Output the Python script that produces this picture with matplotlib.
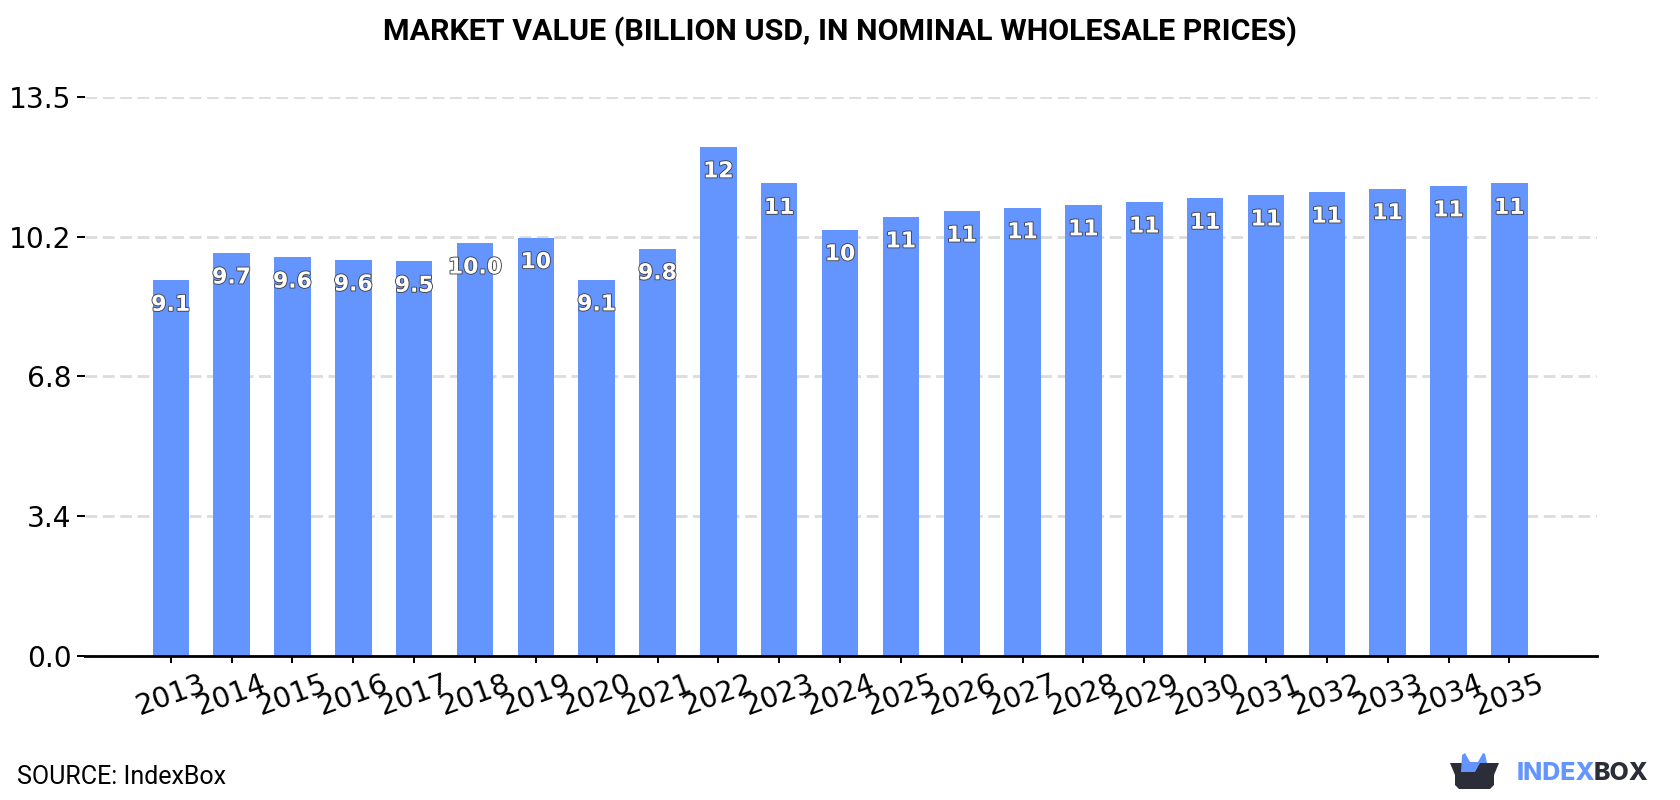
import matplotlib
matplotlib.use("Agg")
import matplotlib.pyplot as plt
import matplotlib.patheffects as pe
from matplotlib.patches import Polygon

years = list(range(2013, 2036))
values = [9.07, 9.73, 9.63, 9.56, 9.53, 9.97, 10.10, 9.08, 9.83, 12.29, 11.41, 10.29,
          10.60, 10.74, 10.82, 10.89, 10.96, 11.05, 11.13, 11.20, 11.28, 11.35, 11.41]
y_ticks = [0, 3.375, 6.75, 10.125, 13.5]
y_tick_labels = ["0.0", "3.4", "6.8", "10.2", "13.5"]

BLUE = "#6495FF"
DARK = "#2B2D38"
W, H = 1680, 800


def fx(px):
    return px / W


def fy(px):
    return 1 - px / H


def lw(px):
    return px * 72 / 100


fig = plt.figure(figsize=(16.8, 8), dpi=100, facecolor="white")
ax = fig.add_axes([fx(85), fy(656), fx(1597 - 85), (656 - 96.7) / H])

xs = list(range(len(years)))
bars = ax.bar(xs, values, width=0.6, color=BLUE, zorder=3)

ax.set_xlim(-1.41, 23.44)
ax.set_ylim(0, 13.5)

ax.set_yticks(y_ticks)
ax.set_yticklabels(y_tick_labels, fontsize=20.2, family="DejaVu Sans")
ax.set_xticks(xs)
ax.set_xticklabels(years, fontsize=20.5, family="DejaVu Sans", rotation=20,
                   ha="center", rotation_mode="default")
ax.tick_params(axis="y", length=lw(8), width=lw(2), pad=4)
ax.tick_params(axis="x", length=lw(7), width=lw(2), pad=4.5)

ax.grid(axis="y", color="#DCDCDC", linewidth=lw(2.8), linestyle=(0, (4.2, 2.0)), zorder=1)
ax.set_axisbelow(True)
for side in ("top", "right", "left"):
    ax.spines[side].set_visible(False)
ax.spines["bottom"].set_linewidth(lw(2.8))
ax.spines["bottom"].set_zorder(5)

# Value labels sit just inside the top of each bar
for x, v in zip(xs, values):
    label = f"{v:.1f}" if v < 10 else f"{v:.0f}"
    ax.annotate(label, (x, v), xytext=(0, -17.7), textcoords="offset points",
                ha="center", va="center", fontsize=15.8, fontweight="bold",
                family="DejaVu Sans", color="white", zorder=6,
                path_effects=[pe.withStroke(linewidth=1.3, foreground="#444444")])

fig.text(0.5, fy(31.5), "MARKET VALUE (BILLION USD, IN NOMINAL WHOLESALE PRICES)",
         ha="center", va="center", fontsize=21.9, fontweight="bold",
         family="Roboto", color="black")
fig.text(fx(17), fy(777), "SOURCE: IndexBox", ha="left", va="center",
         fontsize=18, family="Roboto", color="black")

# IndexBox logo: open box with a blue shape rising out of it
box = [(1450, 763), (1499, 763), (1494, 775), (1494, 785), (1490, 789),
       (1459, 789), (1455, 785), (1455, 775)]
flap = [(1461, 772), (1462, 755), (1465, 753), (1470, 762), (1478, 762), (1483, 753),
        (1485, 754), (1487, 763), (1480, 763), (1475, 772)]
for pts, colour, z in ((box, DARK, 1), (flap, BLUE, 2)):
    fig.add_artist(Polygon([(fx(a), fy(b)) for a, b in pts], closed=True,
                           transform=fig.transFigure, facecolor=colour,
                           edgecolor="none", zorder=z))
fig.text(fx(1517), fy(773.5), "INDEX", ha="left", va="center", fontsize=18,
         fontweight="heavy", family="Inter", color=BLUE)
fig.text(fx(1648), fy(773.5), "BOX", ha="right", va="center", fontsize=18,
         fontweight="heavy", family="Inter", color=DARK)

fig.savefig("out.png", dpi=100, facecolor="white")
